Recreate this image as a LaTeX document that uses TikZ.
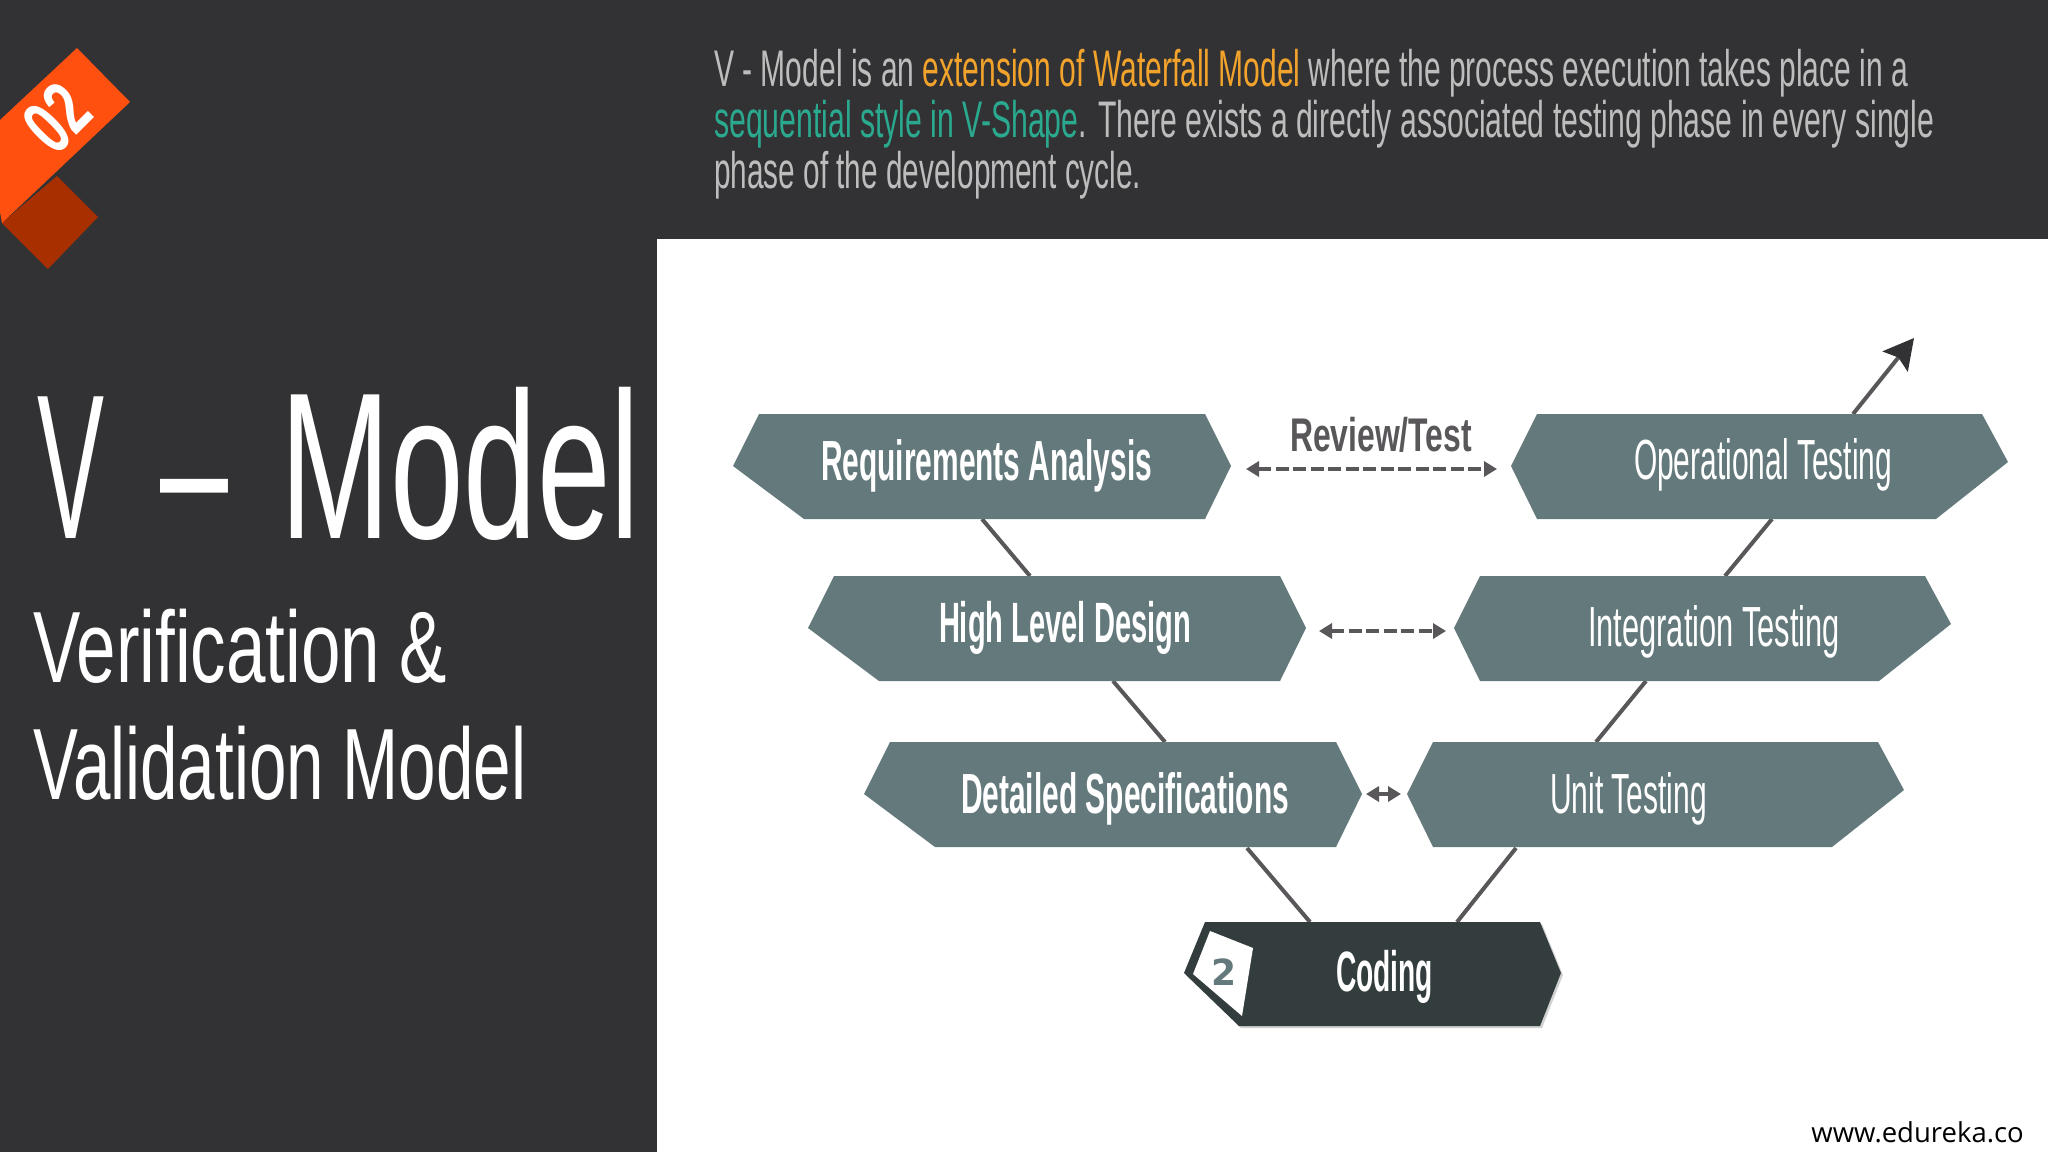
\documentclass[tikz,border=0pt]{standalone}
\usepackage{fontspec}
\usepackage{graphicx}
\usetikzlibrary{arrows.meta,calc}
\setmainfont{Liberation Sans}
\newfontfamily\webfont{Open Sans}
\newfontfamily\numfont{DejaVu Sans}
\definecolor{bgdark}{HTML}{323234}
\definecolor{hexgrey}{HTML}{64797B}
\definecolor{hexdark}{HTML}{333D3E}
\definecolor{linegrey}{HTML}{595759}
\definecolor{ribbon}{HTML}{FF5010}
\definecolor{ribbondark}{HTML}{A83000}
\definecolor{introgrey}{HTML}{BDBDBD}
\definecolor{introorange}{HTML}{F2A32C}
\definecolor{introteal}{HTML}{2BA98F}
\newcommand{\fitw}[3]{\resizebox{#1pt}{\totalheight}{\fontsize{#2}{#2}\selectfont #3}}
\tikzset{
  conn/.style={draw=linegrey,line width=4pt},
  dbl/.style={draw=linegrey,line width=4.5pt,{Stealth[length=13pt,width=15pt,inset=0pt]}-{Stealth[length=13pt,width=15pt,inset=0pt]}},
  hexfill/.style={fill=hexgrey,draw=none},
  lab/.style={anchor=base,inner sep=0pt,text=white},
  intro/.style={anchor=base west,inner sep=0pt,text=introgrey},
  big/.style={anchor=base west,inner sep=0pt,text=white}
}
% left-hand hexagon: top-left corner at (#2,#3)
\newcommand{\hexleft}[3]{%
  \coordinate (#1) at (#2,#3);
  \fill[hexfill] ($(#1)+(-26,52)$) -- (#1) -- ($(#1)+(446,0)$) -- ($(#1)+(472,52)$) -- ($(#1)+(446,105)$) -- ($(#1)+(45,105)$) -- cycle;}
% right-hand hexagon
\newcommand{\hexright}[3]{%
  \coordinate (#1) at (#2,#3);
  \fill[hexfill] ($(#1)+(-26,52)$) -- (#1) -- ($(#1)+(445,0)$) -- ($(#1)+(471,48)$) -- ($(#1)+(399,105)$) -- ($(#1)+(0,105)$) -- cycle;}
\begin{document}
\begin{tikzpicture}[x=1pt,y=-1pt]
\useasboundingbox (0,0) rectangle (2048,1152);
\fill[bgdark] (0,0) rectangle (2048,1152);
\fill[white] (657,239) rectangle (2048,1152);

% ribbon
\fill[ribbondark] (57,176) -- (98,217) -- (48,269) -- (2,223) -- cycle;
\fill[ribbon] (0,120) -- (77,48) -- (130,102) -- (2,223) -- (0,212) -- cycle;
\node[inner sep=0pt,rotate=45,text=white] (num) at (57,118) {\fitw{58}{76pt}{\bfseries 02}};

% intro text
\node[intro] (l1) at (714,86) {\fitw{1194}{40pt}{V - Model is an {\color{introorange}extension of Waterfall Model} where the process execution takes place in a}};
\node[intro] (l2) at (714,137) {\fitw{1220}{40pt}{{\color{introteal}sequential style in V-Shape}. There exists a directly associated testing phase in every single}};
\node[intro] (l3) at (714,188) {\fitw{427}{40pt}{phase of the development cycle.}};

% title
\node[big] (t1) at (37,538) {\fitw{67}{206pt}{V}\hspace{56pt}\fitw{68}{206pt}{--}\hspace{52pt}\fitw{360}{206pt}{Model}};
\node[big] (t2) at (33,682) {\fitw{414}{100pt}{Verification \&}};
\node[big] (t3) at (33,799) {\fitw{493}{100pt}{Validation Model}};

% connector ends
\coordinate (c1a) at (982,519); \coordinate (c1b) at (1030,576);
\coordinate (c2a) at (1113,681); \coordinate (c2b) at (1165,742);
\coordinate (c3a) at (1247,848); \coordinate (c3b) at (1310,922);
\coordinate (c4a) at (1457,922); \coordinate (c4b) at (1516,848);
\coordinate (c5a) at (1596,742); \coordinate (c5b) at (1646,681);
\coordinate (c6a) at (1725,576); \coordinate (c6b) at (1772,519);
\coordinate (c7a) at (1853,414); \coordinate (c7b) at (1914,338);
\draw[conn] (c1a) -- (c1b);
\draw[conn] (c2a) -- (c2b);
\draw[conn] (c3a) -- (c3b);
\draw[conn] (c4a) -- (c4b);
\draw[conn] (c5a) -- (c5b);
\draw[conn] (c6a) -- (c6b);
\draw[conn,-{Stealth[length=30pt,width=32pt,inset=5pt,color=bgdark]}] (c7a) -- (c7b);

% hexagons
\hexleft{req}{759}{414}
\hexleft{hld}{834}{576}
\hexleft{det}{890}{742}
\hexright{op}{1537}{414}
\hexright{int}{1480}{576}
\hexright{unit}{1433}{742}

% coding
\coordinate (cod) at (1205,922);
\fill[black!18] (1207,924) -- (1542,924) -- (1563,975) -- (1542,1028) -- (1241,1028) -- (1186,975) -- cycle;
\fill[hexdark] (cod) -- (1540,922) -- (1561,973) -- (1540,1026) -- (1239,1026) -- (1184,973) -- cycle;
\fill[white] (1210,931) -- (1253,948) -- (1242,1016) -- (1193,974) -- cycle;
\node[inner sep=0pt,text=hexgrey] (two) at (1224,972) {\numfont\fontsize{36}{36}\selectfont\bfseries 2};

% labels
\node[lab] (reqt) at (986.5,480) {\fitw{331}{44pt}{\bfseries Requirements Analysis}};
\node[lab] (hldt) at (1065,642) {\fitw{252}{44pt}{\bfseries High Level Design}};
\node[lab] (dett) at (1125,813) {\fitw{328}{44pt}{\bfseries Detailed Specifications}};
\node[lab] (opt) at (1763,479) {\fitw{258}{44pt}{Operational Testing}};
\node[lab] (intt) at (1714,646) {\fitw{252}{44pt}{Integration Testing}};
\node[lab] (unitt) at (1628.5,813) {\fitw{157}{44pt}{Unit Testing}};
\node[lab] (codt) at (1384.5,991) {\fitw{97}{44pt}{\bfseries Coding}};
\node[lab,text=linegrey] (rev) at (1381,451) {\fitw{182}{46pt}{\bfseries Review/Test}};
\node[anchor=base east,inner sep=0pt,text=black] (web) at (2024,1142) {\webfont\fontsize{27.5}{27.5}\selectfont www.edureka.co};

% review/test arrows
\coordinate (a1) at (1246,469); \coordinate (a2) at (1497,469);
\coordinate (b1) at (1319,631); \coordinate (b2) at (1446,631);
\coordinate (e1) at (1366,794); \coordinate (e2) at (1401,794);
\draw[dbl,dash pattern=on 13pt off 4.5pt] (a1) -- (a2);
\draw[dbl,dash pattern=on 13pt off 4.5pt] (b1) -- (b2);
\draw[dbl] (e1) -- (e2);
\end{tikzpicture}
\end{document}
